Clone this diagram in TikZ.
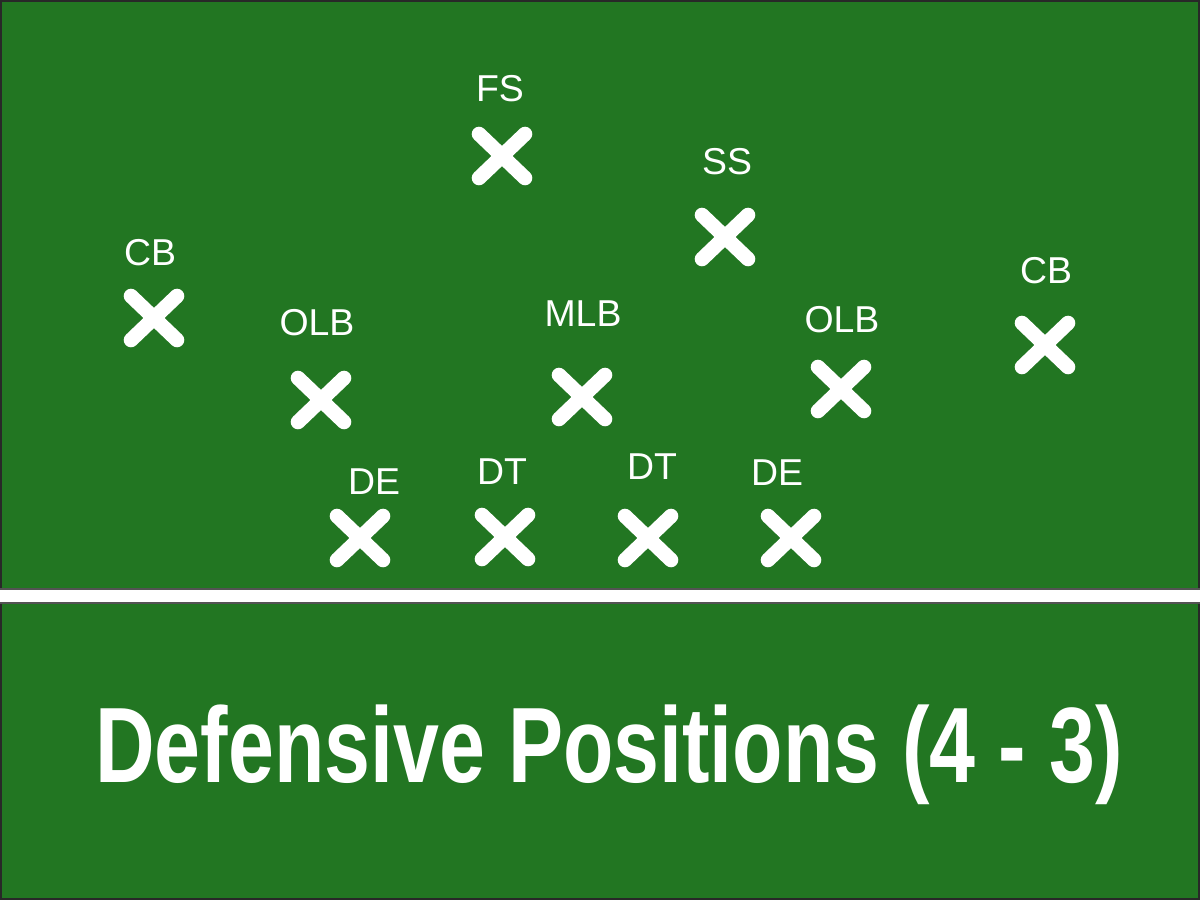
\documentclass[tikz,border=0pt]{standalone}
\usepackage{fontspec}
\setmainfont{Liberation Sans}
\usepackage{xcolor}
\usetikzlibrary{positioning}
\definecolor{turf}{RGB}{34, 118, 34}
\definecolor{edge}{RGB}{40, 40, 40}
\tikzstyle{field} = [fill=turf, draw=edge, line width=1.2pt]
\tikzstyle{yardline} = [fill=white, draw=edge!80, line width=0.6pt]
\tikzstyle{xmark} = [draw=white, line width=8.3pt, line cap=round]
\tikzstyle{tag} = [text=white, inner sep=0pt, font=\fontsize{21.3}{24}\selectfont]
\tikzstyle{title} = [text=white, inner sep=0pt, anchor=base, font=\fontsize{61}{70}\selectfont\bfseries]
\newcommand{\cross}[1]{\draw[xmark] (#1) ++(-23,22) -- ++(46,-44) (#1) ++(-23,-22) -- ++(46,44);}

\begin{document}
\begin{tikzpicture}[x=0.02cm, y=-0.02cm]
    \useasboundingbox (0,0) rectangle (1200,900);
    \path[field] (1,1) rectangle (1199,899);
    \path[yardline] (-2,589) rectangle (1202,603);

    % secondary
    \coordinate (fs) at (502,156);
    \coordinate (ss) at (725,237);
    \coordinate (cbl) at (154,318);
    \coordinate (cbr) at (1045,345);
    % linebackers
    \coordinate (olbl) at (321,400);
    \coordinate (mlb) at (582,397);
    \coordinate (olbr) at (841,389);
    % line
    \coordinate (del) at (360,538);
    \coordinate (dtl) at (505,537);
    \coordinate (dtr) at (648,538);
    \coordinate (der) at (791,538);

    \node [tag] (fs label) at (500,89) {FS};
    \node [tag] (ss label) at (727,162) {SS};
    \node [tag] (cbl label) at (150,253) {CB};
    \node [tag] (cbr label) at (1046,271) {CB};
    \node [tag] (olbl label) at (317,323) {OLB};
    \node [tag] (mlb label) at (583,314) {MLB};
    \node [tag] (olbr label) at (842,320) {OLB};
    \node [tag] (del label) at (374,482) {DE};
    \node [tag] (dtl label) at (502,472) {DT};
    \node [tag] (dtr label) at (652,467) {DT};
    \node [tag] (der label) at (777,473) {DE};

    \cross{fs} \cross{ss} \cross{cbl} \cross{cbr}
    \cross{olbl} \cross{mlb} \cross{olbr}
    \cross{del} \cross{dtl} \cross{dtr} \cross{der}

    \node [title] (heading) at (609,782) {\scalebox{0.77}[1]{Defensive Positions (4 - 3)}};
\end{tikzpicture}
\end{document}
